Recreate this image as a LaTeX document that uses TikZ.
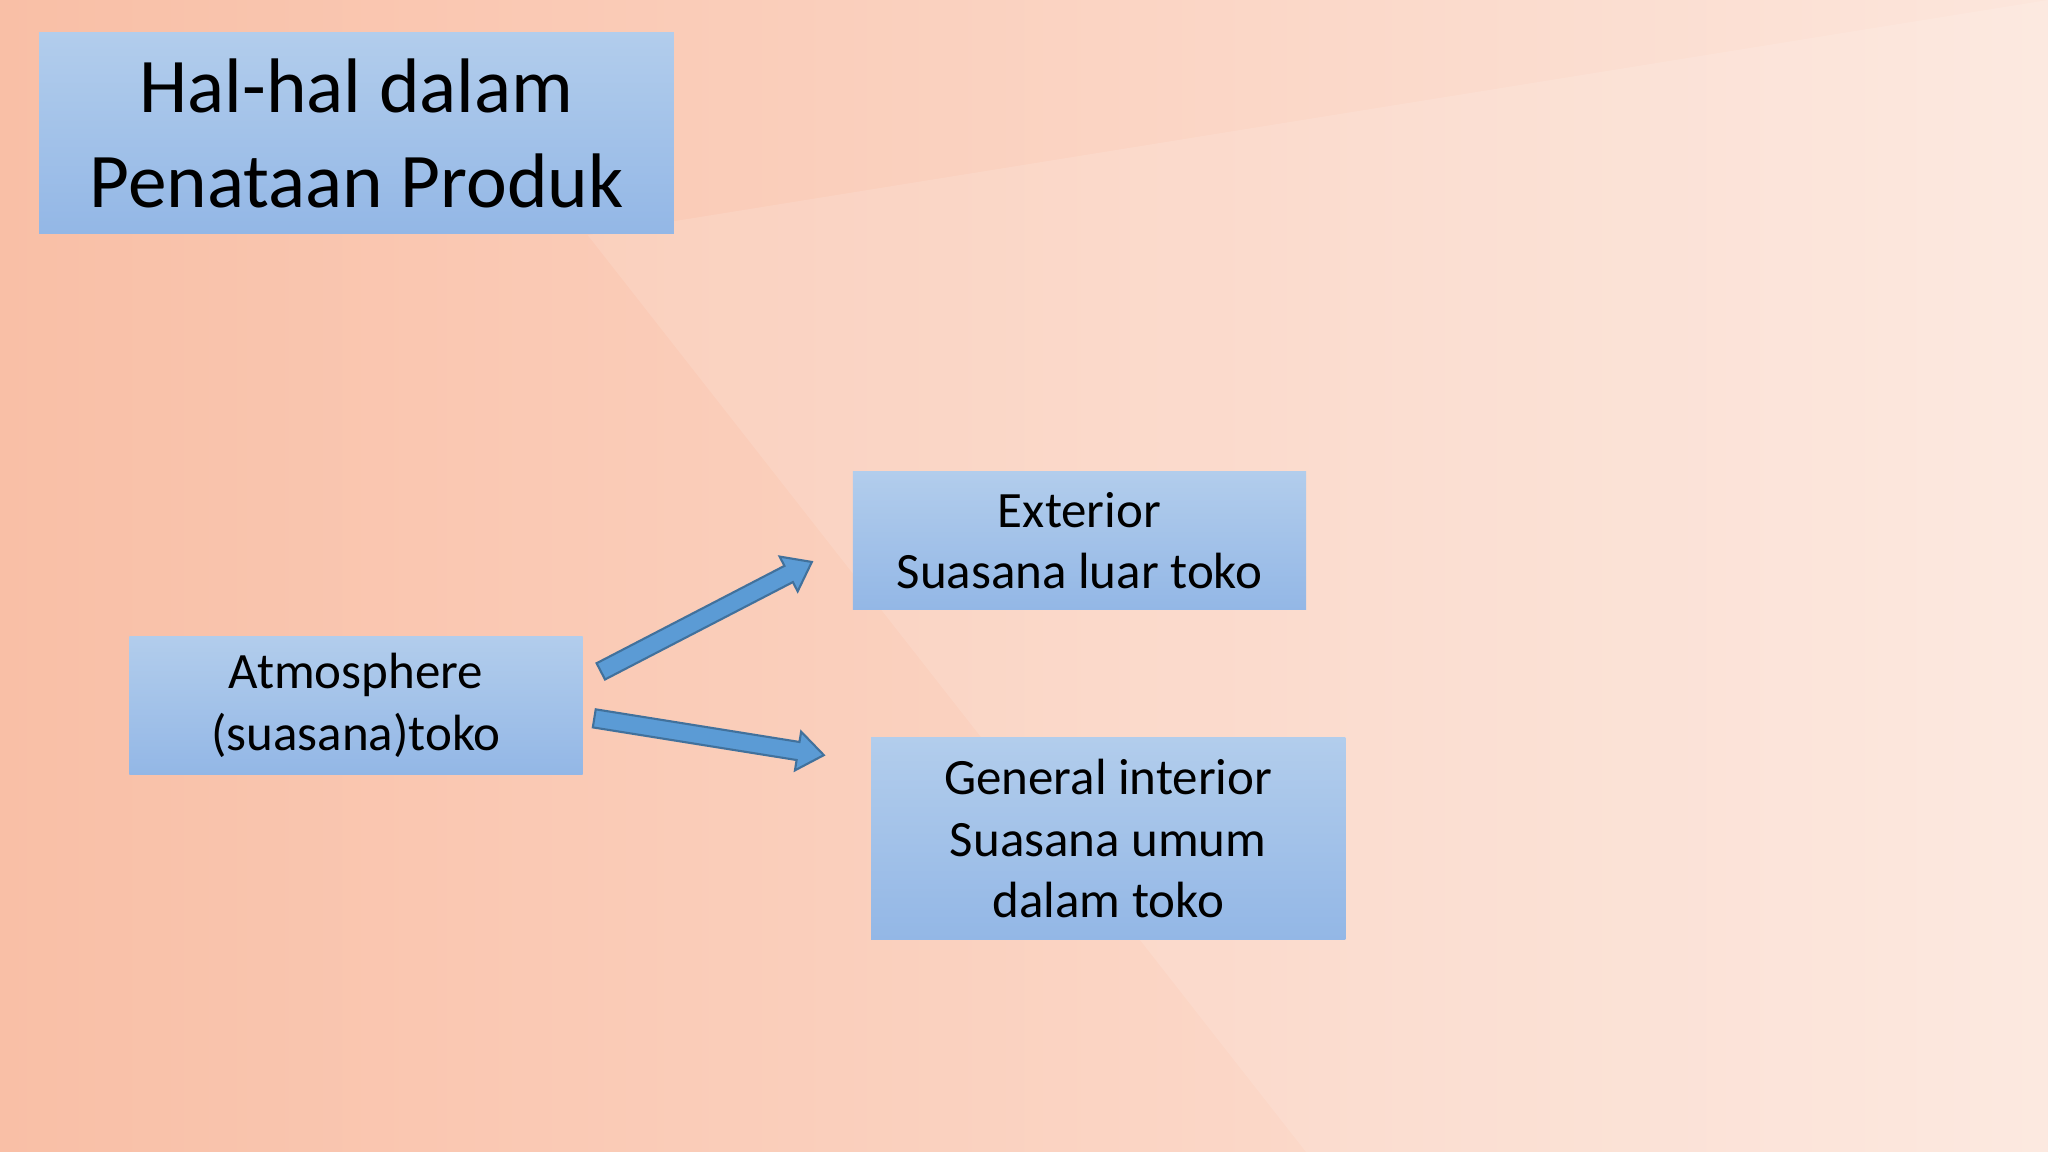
\documentclass[tikz,border=0pt]{standalone}
\usepackage{fontspec}
\setmainfont{Carlito}
\definecolor{bgA}{HTML}{F9BFA6}
\definecolor{bgB}{HTML}{FCE6DC}
\definecolor{boxT}{HTML}{B2CDEC}
\definecolor{boxB}{HTML}{93B7E6}
\definecolor{arrF}{HTML}{5B9BD5}
\definecolor{arrD}{HTML}{41719C}
\tikzset{
 infobox/.style={top color=boxT,bottom color=boxB},
 boxtext/.style={font=\fontsize{14.5}{17.5}\selectfont,align=center},
 blockarrow/.style={draw=arrD,fill=arrF,line width=0.6pt,line join=miter}
}
\newcommand{\blockarr}[1]{(0,-7) -- (#1-20,-7) -- (#1-20,-15) -- (#1,0) -- (#1-20,15) -- (#1-20,7) -- (0,7) -- cycle}
\begin{document}
\begin{tikzpicture}[x=0.013061cm,y=-0.013061cm]
\useasboundingbox (0,0) rectangle (1568,882);
\shade[left color=bgA,right color=bgB] (0,0) rectangle (1568,882);
\fill[white,opacity=0.12] (450,180) -- (1568,0) -- (1568,882) -- (1000,882) -- cycle;
\path[infobox] (30,25) rectangle (516,179);
\node[font=\fontsize{22}{27}\selectfont,align=center] (titletxt) at (273,102) {Hal-hal dalam\\Penataan Produk};
\path[infobox] (99,487) rectangle (446,593);
\node[boxtext] (atm) at (272.5,540) {Atmosphere\\(suasana)toko};
\path[infobox] (653,361) rectangle (1000,467);
\node[boxtext] (ext) at (826.5,414) {Exterior\\Suasana luar toko};
\path[infobox] (667,565) rectangle (1030,719);
\node[boxtext] (gen) at (848.5,642) {General interior\\Suasana umum\\dalam toko};
\begin{scope}[shift={(460,514)},rotate=27.4]
\draw[blockarrow] \blockarr{182};
\end{scope}
\begin{scope}[shift={(455,550)},rotate=-9.1]
\draw[blockarrow] \blockarr{178};
\end{scope}
\end{tikzpicture}
\end{document}
